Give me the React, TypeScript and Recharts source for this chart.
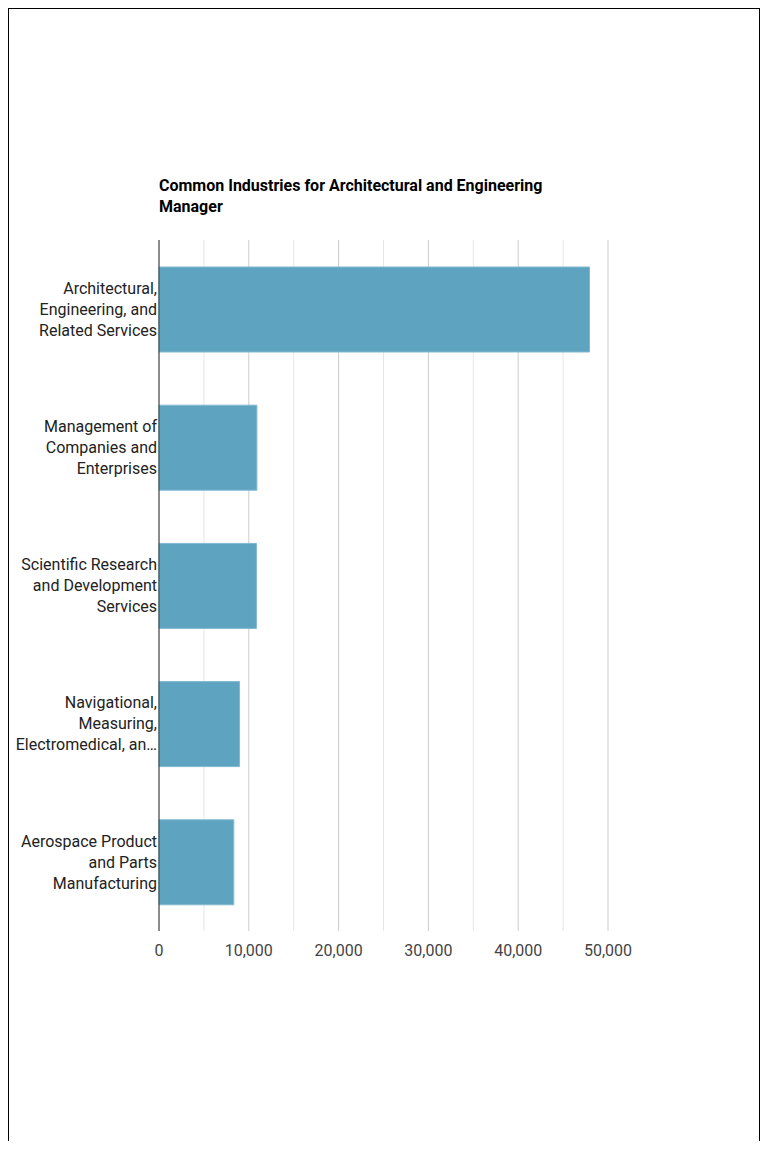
import { Bar, BarChart, CartesianGrid, XAxis, YAxis } from 'recharts';

const industries = [
  'Architectural, Engineering, and Related Services',
  'Management of Companies and Enterprises',
  'Scientific Research and Development Services',
  'Navigational, Measuring, Electromedical, and Control Instruments Manufacturing',
  'Aerospace Product and Parts Manufacturing',
];
const employment = [47940, 10900, 10850, 8970, 8330];
const majorTicks = [0, 10000, 20000, 30000, 40000, 50000];
const minorTicks = [5000, 15000, 25000, 35000, 45000];

const title = 'Common Industries for Architectural and Engineering Manager';

const data = industries.map((name, i) => ({ name, value: employment[i] }));

const font = '16px Roboto';
let ctx: CanvasRenderingContext2D | null = null;
function measure(s: string) {
  if (!ctx) ctx = document.createElement('canvas').getContext('2d');
  if (!ctx) return s.length * 8;
  ctx.font = font;
  return ctx.measureText(s).width;
}

// wrap to at most 3 lines, ellipsis on the last one
function wrap(text: string, maxW: number, maxLines = 3) {
  const words = text.split(' ');
  const lines: string[] = [];
  let cur = '';
  for (let i = 0; i < words.length; i++) {
    const next = cur ? cur + ' ' + words[i] : words[i];
    if (measure(next) <= maxW || !cur) {
      cur = next;
      continue;
    }
    lines.push(cur);
    cur = words[i];
    if (lines.length === maxLines - 1) {
      const rest = words.slice(i).join(' ');
      if (measure(rest) <= maxW) {
        cur = rest;
      } else {
        let t = rest;
        while (t.length > 0 && measure(t + '…') > maxW) t = t.slice(0, -1);
        cur = t + '…';
      }
      break;
    }
  }
  lines.push(cur);
  return lines;
}

function CategoryTick(props: any) {
  const { x, y, payload } = props;
  const lines = wrap(payload.value, 144);
  const lh = 21;
  const start = y - ((lines.length - 1) * lh) / 2;
  return (
    <text x={x} y={start} textAnchor="end" fill="#222" fontSize={16} fontFamily="Roboto">
      {lines.map((l, i) => (
        <tspan key={i} x={x} y={start + i * lh} dy="0.35em">{l}</tspan>
      ))}
    </text>
  );
}

const minorLines = ({ xAxis, offset }: any) =>
  minorTicks.map((t) =>
    xAxis && typeof xAxis.scale === 'function'
      ? xAxis.scale(t)
      : offset.left + (t / 50000) * offset.width
  );

export default function App() {
  return (
    <div
      style={{
        position: 'relative',
        width: 750,
        height: 1132,
        borderTop: '1px solid #000',
        borderLeft: '1px solid #000',
        borderRight: '1px solid #000',
        fontFamily: 'Roboto',
      }}
    >
      <div
        style={{
          position: 'absolute',
          left: 150,
          top: 166,
          width: 420,
          fontSize: 16,
          lineHeight: '21px',
          fontWeight: 700,
          color: '#000',
        }}
      >
        {title}
      </div>
      <div style={{ position: 'absolute', left: 0, top: 0 }}>
        <BarChart
          width={750}
          height={1000}
          data={data}
          layout="vertical"
          margin={{ top: 231, right: 151, bottom: 38, left: 0 }}
        >
          <CartesianGrid
            horizontal={false}
            stroke="#e6e6e6"
            verticalCoordinatesGenerator={minorLines}
          />
          <CartesianGrid horizontal={false} stroke="#cccccc" />
          <XAxis
            type="number"
            domain={[0, 50000]}
            ticks={majorTicks}
            tickFormatter={(v: number) => v.toLocaleString('en-US')}
            axisLine={false}
            tickLine={false}
            tickSize={0}
            tickMargin={14}
            height={40}
            tick={{ fill: '#444', fontSize: 16, fontFamily: 'Roboto' }}
          />
          <YAxis
            type="category"
            dataKey="name"
            width={150}
            axisLine={{ stroke: '#333' }}
            tickLine={false}
            tickSize={0}
            tickMargin={2}
            tick={<CategoryTick />}
            interval={0}
          />
          <Bar
            dataKey="value"
            fill="#5ea3c0"
            stroke="#80b9d0"
            strokeWidth={1}
            barSize={85}
            isAnimationActive={false}
          />
        </BarChart>
      </div>
    </div>
  );
}
